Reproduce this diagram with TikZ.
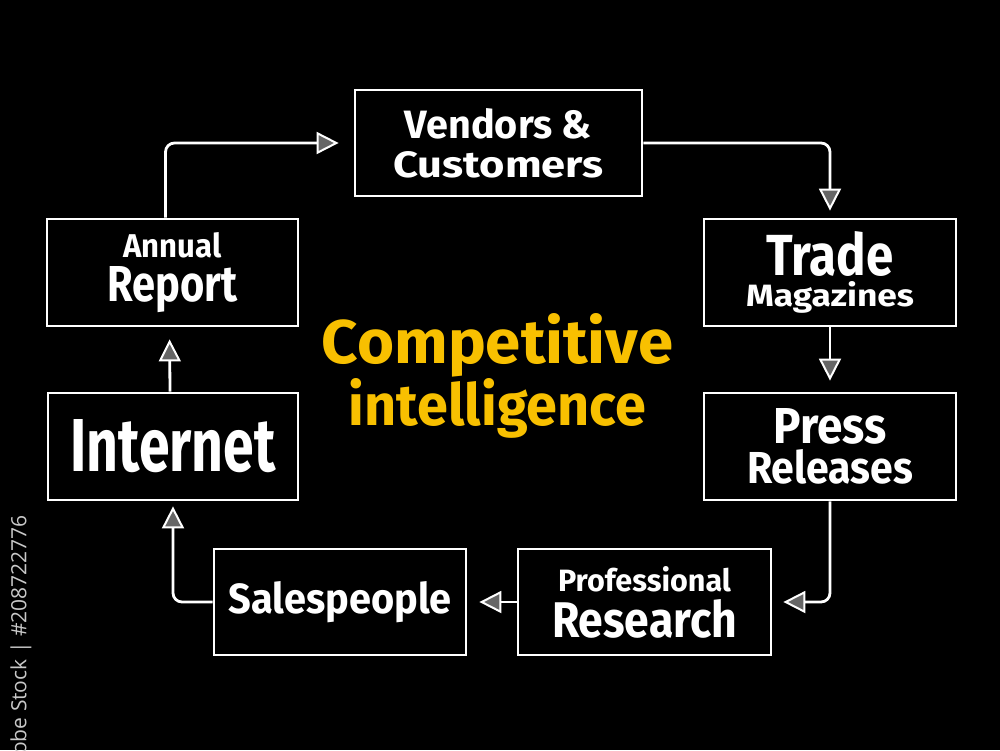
\documentclass[tikz,border=0pt]{standalone}
\usepackage{fontspec}
\usepackage{graphicx}
\setmainfont{Fira Sans}
\newfontfamily\wmfont{Open Sans}
\usetikzlibrary{arrows.meta}
\definecolor{ciyellow}{RGB}{248,192,0}
\definecolor{wmgray}{RGB}{200,200,200}
\newcommand{\TL}[3]{\resizebox{#1pt}{#2pt}{#3}}
\lineskiplimit=-1000pt
\begin{document}
\begin{tikzpicture}[x=1pt,y=-1pt,
  box/.style={draw=white, line width=2.8pt, rectangle, inner sep=0pt, text=white, align=center},
  flow/.style={draw=white, line width=2.8pt, rounded corners=9pt,
    -{Triangle[length=22pt,width=22pt,fill=white!40!black,line width=2pt]}},
]
\fill[black] (0,0) rectangle (1000,750);
\useasboundingbox (0,0) rectangle (1000,750);

\node[box, minimum width=287pt, minimum height=106pt, font={\bfseries\fontsize{20}{39}\selectfont}] (ven) at (498.5,143)
  {\TL{187}{30}{Vendors \&}\\\TL{210}{26}{Customers}};
\node[box, minimum width=252pt, minimum height=107pt, font={\bfseries\fontsize{20}{31}\selectfont}] (tra) at (830,272.5)
  {\TL{127}{44}{Trade}\\\TL{168}{25}{Magazines}};
\node[box, minimum width=252pt, minimum height=107pt, font={\bfseries\fontsize{20}{40}\selectfont}] (pre) at (830,446.5)
  {\TL{113}{35}{Press}\\\TL{166}{34}{Releases}};
\node[box, minimum width=253pt, minimum height=106pt, font={\bfseries\fontsize{20}{46}\selectfont}] (pro) at (644.5,602)
  {\TL{173}{25}{Professional}\\\TL{185}{38}{Research}};
\node[box, minimum width=252pt, minimum height=106pt, font={\bfseries\fontsize{20}{30}\selectfont}] (sal) at (340,602)
  {\TL{223}{32}{Salespeople}};
\node[box, minimum width=250pt, minimum height=107pt, font={\bfseries\fontsize{20}{30}\selectfont}] (int) at (173,446.5)
  {\TL{205}{52}{Internet}};
\node[box, minimum width=251pt, minimum height=107pt, font={\bfseries\fontsize{20}{44}\selectfont}] (ann) at (172.5,272.5)
  {\TL{98}{25}{Annual}\\\TL{130}{35}{Report}};

\node[inner sep=0pt, align=center, text=ciyellow, font={\bfseries\fontsize{20}{62}\selectfont}] (ci) at (497.5,376)
  {\TL{351}{50}{Competitive}\\\TL{297}{47}{intelligence}};

\draw[flow, shorten >=15pt] ([xshift=-7pt]ann.north) |- (ven.west);
\draw[flow, shorten >=7pt] (ven.east) -| (tra.north);
\draw[flow, shorten >=11pt] (tra.south) -- (pre.north);
\draw[flow, shorten >=11pt] (pre.south) |- (pro.east);
\draw[flow, shorten >=12pt] (pro.west) -- (sal.east);
\draw[flow, shorten >=5pt] (sal.west) -| (int.south);
\draw[flow, shorten >=12pt] ([xshift=-3pt]int.north) -- ([xshift=-3pt]ann.south);

\node[rotate=90, anchor=east, inner sep=0pt, text=wmgray, font={\wmfont\fontsize{21}{21}\selectfont}] (wm) at (21,515)
  {Adobe Stock | \#208722776};
\end{tikzpicture}
\end{document}
